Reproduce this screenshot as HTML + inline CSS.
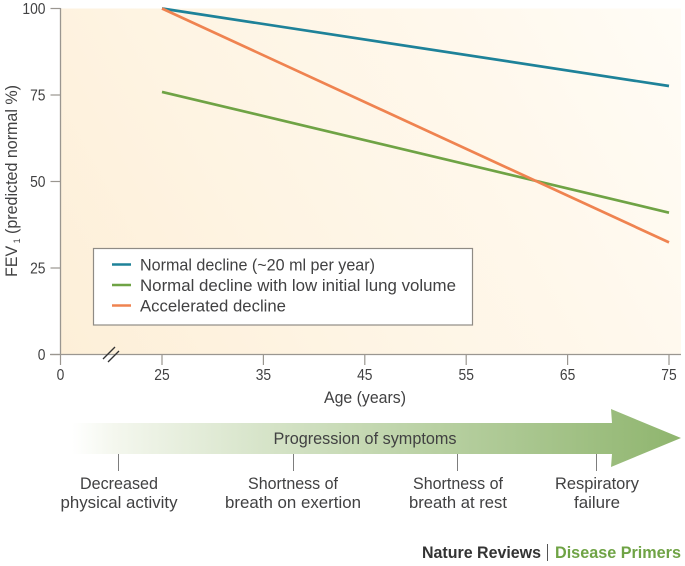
<!DOCTYPE html>
<html>
<head>
<meta charset="utf-8">
<style>
html,body{margin:0;padding:0;background:#fff;}
svg{display:block;font-family:"Liberation Sans",sans-serif;}
text{fill:#414142;}
</style>
</head>
<body>
<svg id="chart" width="685" height="566" viewBox="0 0 685 566" xmlns="http://www.w3.org/2000/svg">
<defs>
<linearGradient id="bgGrad" gradientUnits="userSpaceOnUse" x1="60" y1="354" x2="681" y2="8">
<stop offset="0" stop-color="#fdefd8"/>
<stop offset="0.35" stop-color="#fef4e3"/>
<stop offset="0.7" stop-color="#fff8ec"/>
<stop offset="1" stop-color="#fffcf6"/>
</linearGradient>
<linearGradient id="arrowGrad" gradientUnits="userSpaceOnUse" x1="72" y1="0" x2="681" y2="0">
<stop offset="0" stop-color="#ffffff"/>
<stop offset="0.07" stop-color="#f4f7ee"/>
<stop offset="0.3" stop-color="#d8e5cb"/>
<stop offset="0.6" stop-color="#b8d0a2"/>
<stop offset="1" stop-color="#8fb56e"/>
</linearGradient>
</defs>
<rect x="60.5" y="8.5" width="620.5" height="346" fill="url(#bgGrad)"/>
<g id="axes"></g>
<g id="series"></g>
<g>
<rect x="93.5" y="248.5" width="379" height="76.5" fill="#fff" stroke="#8f8b85" stroke-width="1.2"/>
<line x1="112" x2="131" y1="264.5" y2="264.5" stroke="#1e8299" stroke-width="2.6"/>
<line x1="112" x2="131" y1="285" y2="285" stroke="#6fa345" stroke-width="2.6"/>
<line x1="112" x2="131" y1="305.5" y2="305.5" stroke="#ef8350" stroke-width="2.6"/>
<text x="140" y="270.5" font-size="16.5" textLength="235" lengthAdjust="spacingAndGlyphs">Normal decline (~20 ml per year)</text>
<text x="140" y="291" font-size="16.5" textLength="316" lengthAdjust="spacingAndGlyphs">Normal decline with low initial lung volume</text>
<text x="140" y="311.5" font-size="16.5" textLength="146" lengthAdjust="spacingAndGlyphs">Accelerated decline</text>
</g>
<text x="365" y="403" font-size="16.5" text-anchor="middle" textLength="82" lengthAdjust="spacingAndGlyphs">Age (years)</text>
<text transform="translate(17,181) rotate(-90)" font-size="16.5" text-anchor="middle" textLength="192" lengthAdjust="spacingAndGlyphs">FEV<tspan font-size="9" dy="3"> 1</tspan><tspan dy="-3"> (predicted normal %)</tspan></text>
<g stroke="#333" stroke-width="1.3">
<line x1="103" y1="359" x2="115" y2="347"/>
<line x1="108" y1="362" x2="119" y2="351"/>
</g>
<polygon points="72,423 612,423 611,409 681,438 611,467 612,454 72,454" fill="url(#arrowGrad)"/>
<text x="365" y="444" font-size="16.5" text-anchor="middle" textLength="183" lengthAdjust="spacingAndGlyphs">Progression of symptoms</text>
<g stroke="#7d7d7d" stroke-width="1">
<line x1="118.5" x2="118.5" y1="454" y2="471"/>
<line x1="293.5" x2="293.5" y1="454" y2="471"/>
<line x1="457.5" x2="457.5" y1="454" y2="471"/>
<line x1="596.5" x2="596.5" y1="454" y2="471"/>
</g>
<g font-size="16.5" text-anchor="middle">
<text><tspan x="119" y="489" textLength="78" lengthAdjust="spacingAndGlyphs">Decreased</tspan><tspan x="119" y="508" textLength="117" lengthAdjust="spacingAndGlyphs">physical activity</tspan></text>
<text><tspan x="293" y="489" textLength="90" lengthAdjust="spacingAndGlyphs">Shortness of</tspan><tspan x="293" y="508" textLength="136" lengthAdjust="spacingAndGlyphs">breath on exertion</tspan></text>
<text><tspan x="458" y="489" textLength="90" lengthAdjust="spacingAndGlyphs">Shortness of</tspan><tspan x="458" y="508" textLength="98" lengthAdjust="spacingAndGlyphs">breath at rest</tspan></text>
<text><tspan x="597" y="489" textLength="84" lengthAdjust="spacingAndGlyphs">Respiratory</tspan><tspan x="597" y="508" textLength="46" lengthAdjust="spacingAndGlyphs">failure</tspan></text>
</g>
<text x="422" y="558" font-size="16.5" font-weight="bold" textLength="119" lengthAdjust="spacingAndGlyphs" style="fill:#333">Nature Reviews</text>
<line x1="547.5" x2="547.5" y1="544" y2="561" stroke="#555" stroke-width="1"/>
<text x="555" y="558" font-size="16.5" font-weight="bold" textLength="126" lengthAdjust="spacingAndGlyphs" style="fill:#6fa345">Disease Primers</text>
</svg>
<script>
const ages = [25, 75];
const normalDecline = [100, 77.6];
const lowVolumeDecline = [75.9, 41.0];
const acceleratedDecline = [100, 32.4];
const xTickLabels = [0, 25, 35, 45, 55, 65, 75];
const yTickLabels = [0, 25, 50, 75, 100];

const NS = 'http://www.w3.org/2000/svg';
function xScale(age) {
  if (age < 25) return 60.5 + (age / 25) * 101.5;
  return 162 + (age - 25) * 10.14;
}
function yScale(v) {
  return 354.5 - v * 3.46;
}
function mk(parent, tag, attrs, txt) {
  const el = document.createElementNS(NS, tag);
  for (const k in attrs) el.setAttribute(k, attrs[k]);
  if (txt !== undefined) el.textContent = txt;
  parent.appendChild(el);
  return el;
}
const axes = document.getElementById('axes');
const axisColor = '#9a9690';
const yAxis = mk(axes, 'line', {x1: 60.5, x2: 60.5, y1: 8, y2: 355, stroke: axisColor, 'stroke-width': 1.3});


const xAxis = mk(axes, 'line', {x1: 50, x2: 681, y1: 354.5, y2: 354.5, stroke: axisColor, 'stroke-width': 1.3});


yTickLabels.forEach(function (v) {
  const y = yScale(v);
  const tick = mk(axes, 'line', {x1: 50.5, x2: 60.5, y1: y, y2: y, stroke: axisColor, 'stroke-width': 1.2});
  
  
  const text = String(v);
  const label = mk(axes, 'text', {x: 45.5, y: y + 5.5, 'font-size': 16, 'text-anchor': 'end', textLength: text.length * 7.7, lengthAdjust: 'spacingAndGlyphs'}, text);
  
  
});
xTickLabels.forEach(function (v) {
  const x = xScale(v);
  const tick = mk(axes, 'line', {x1: x, x2: x, y1: 354.5, y2: 365, stroke: axisColor, 'stroke-width': 1.2});
  
  
  const text = String(v);
  const label = mk(axes, 'text', {x: x, y: 380, 'font-size': 16, 'text-anchor': 'middle', textLength: text.length * 7.7, lengthAdjust: 'spacingAndGlyphs'}, text);
  
  
});
const seriesGroup = document.getElementById('series');
function drawLine(values, color) {
  const pts = values.map(function (v, i) { return xScale(ages[i]) + ',' + yScale(v); }).join(' ');
  return mk(seriesGroup, 'polyline', {points: pts, fill: 'none', stroke: color, 'stroke-width': 2.7});
}
const lineNormal = drawLine(normalDecline, '#1e8299');


const lineLow = drawLine(lowVolumeDecline, '#6fa345');


const lineAccel = drawLine(acceleratedDecline, '#ef8350');


</script>
</body>
</html>
